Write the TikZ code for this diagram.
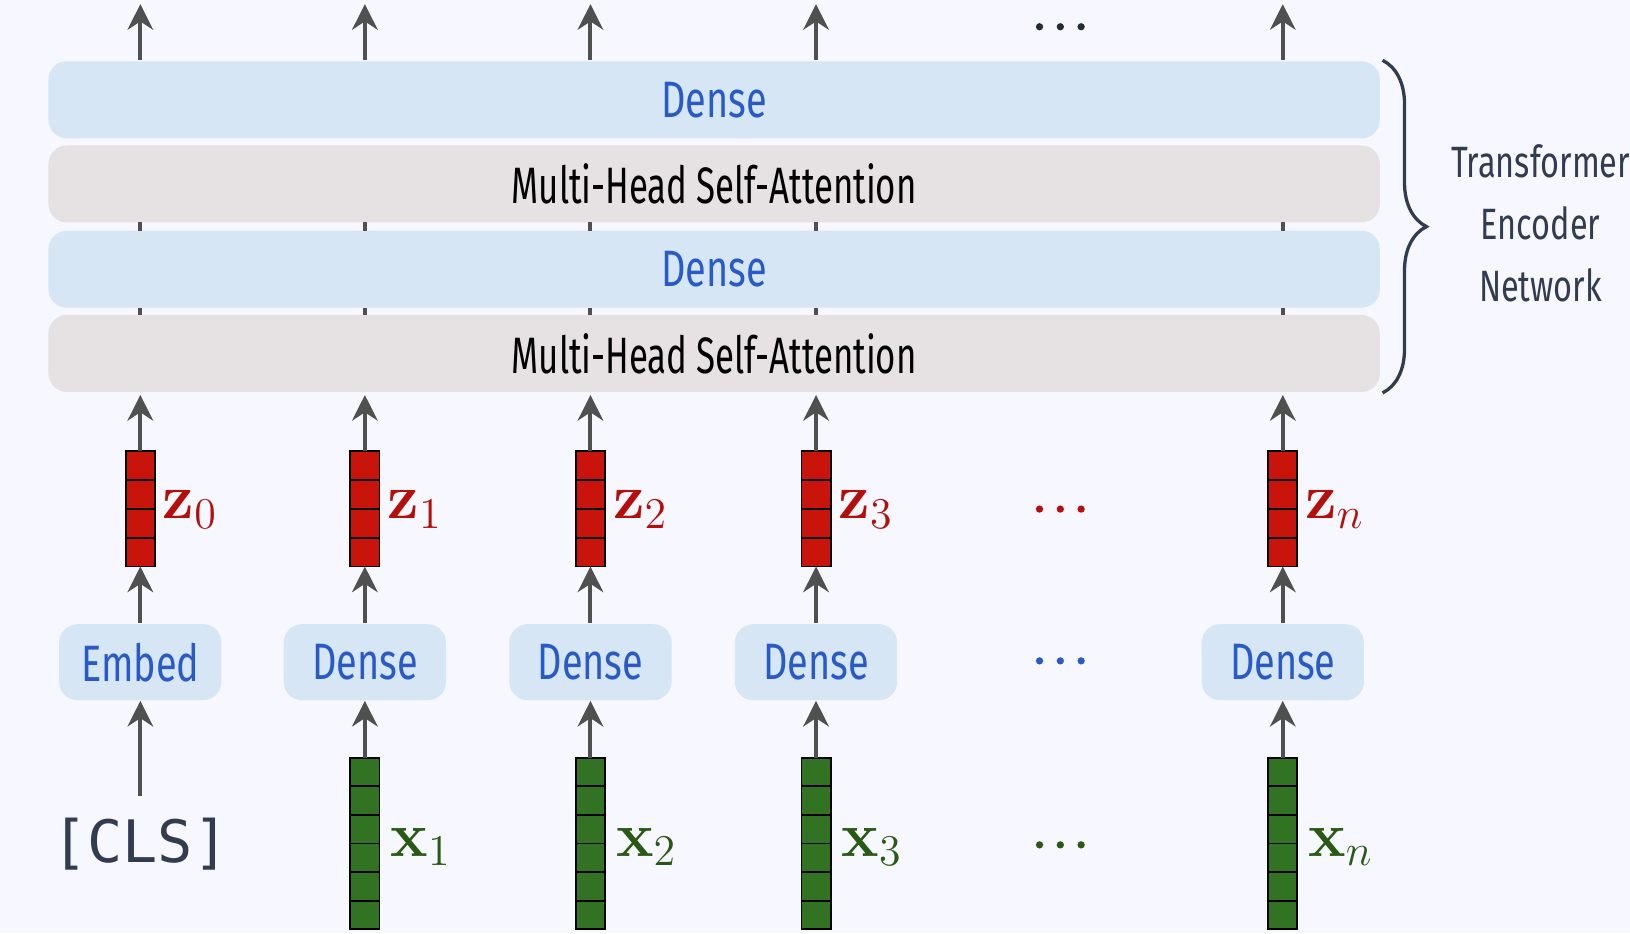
\documentclass[tikz,border=0pt]{standalone}
\usepackage[no-math]{fontspec}
\setmainfont{Fira Sans}
\setmonofont{DejaVu Sans Mono}
\usetikzlibrary{arrows.meta,decorations.pathreplacing}
\definecolor{lb}{RGB}{214,230,245}
\definecolor{lg}{RGB}{230,226,228}
\definecolor{tb}{RGB}{40,90,200}
\definecolor{ar}{RGB}{80,80,80}
\definecolor{rz}{RGB}{200,20,10}
\definecolor{dz}{RGB}{180,15,10}
\definecolor{gx}{RGB}{50,115,35}
\definecolor{dg}{RGB}{40,90,20}
\definecolor{sl}{RGB}{50,60,80}
\newcommand{\sq}[1]{\scalebox{0.74}[1]{#1}}
\newcommand{\sqm}[1]{\scalebox{0.68}[1]{#1}}
\newcommand{\mydots}{\tikz[baseline]{\foreach \q in {0,1,2}\fill (\q*0.2cm,0.08cm) circle (0.035cm);}}
\begin{document}
\begin{tikzpicture}[x=0.01cm,y=-0.01cm,
  arr/.style={draw=ar,line width=1.1pt,-{Stealth[length=7pt,width=7pt]}},
  layer/.style={rounded corners=5pt,minimum width=12.8cm,minimum height=0.74cm,inner sep=0pt,font=\fontsize{14}{16}\selectfont},
  small/.style={rounded corners=5pt,fill=lb,minimum width=1.56cm,minimum height=0.73cm,inner sep=0pt,text=tb,font=\fontsize{14}{16}\selectfont},
  cell/.style={draw=black,line width=0.5pt}]
\fill[white!97!blue] (0,0) rectangle (1568,898);
\useasboundingbox (0,0) rectangle (1568,898);
% layers
\node[layer,fill=lb,text=tb] (d2) at (687,96) {\sq{Dense}};
\node[layer,fill=lg] (m2) at (687,177) {\sqm{Multi-Head Self-Attention}};
\node[layer,fill=lb,text=tb] (d1) at (687,259) {\sq{Dense}};
\node[layer,fill=lg] (m1) at (687,340) {\sqm{Multi-Head Self-Attention}};
% columns
\foreach \i/\c in {0/135,1/351,2/568,3/785,4/1234}{
  \coordinate (t\i) at (\c,4);
  \draw[arr] (\c,58) -- (t\i);
  \draw[ar,line width=1.1pt] (\c,214) -- (\c,222);
  \draw[ar,line width=1.1pt] (\c,296) -- (\c,303);
  \foreach \k in {0,1,2,3}{
    \draw[cell,fill=rz] (\c-14,434+\k*27.75) rectangle (\c+14,434+\k*27.75+27.75);}
  \coordinate (zt\i) at (\c,434);
  \coordinate (zb\i) at (\c,545);
  \draw[arr] (zt\i) -- (\c,380);
}
\node[text=sl!70!black] (dt) at (1020,28) {\mydots};
\foreach \i/\c/\s in {0/135/0,1/351/1,2/568/2,3/785/3,4/1234/n}{
  \node[anchor=west,text=dz,font=\fontsize{18}{20}\selectfont,inner sep=0pt] (zl\i) at (\c+21,490) {$\mathbf{z}_{\s}$};
}
\node[text=dz] (zd) at (1020,492) {\mydots};
% small boxes
\node[small] (e0) at (135,637) {\sq{Embed}};
\foreach \i/\c in {1/351,2/568,3/785,4/1234}{
  \node[small] (e\i) at (\c,637) {\sq{Dense}};}
\node[text=tb] (ed) at (1020,638) {\mydots};
\foreach \i in {0,...,4}{\draw[arr] (e\i.north) -- (zb\i);}
% inputs
\node[text=sl,font=\ttfamily\fontsize{16}{18}\selectfont] (cls) at (135,812) {[CLS]};
\draw[arr] (135,766) -- (e0.south);
\foreach \i/\c/\s in {1/351/1,2/568/2,3/785/3,4/1234/n}{
  \foreach \k in {0,...,5}{
    \draw[cell,fill=gx] (\c-14,729+\k*27.5) rectangle (\c+14,729+\k*27.5+27.5);}
  \coordinate (xt\i) at (\c,729);
  \draw[arr] (xt\i) -- (e\i.south);
  \node[anchor=west,text=dg,font=\fontsize{18}{20}\selectfont,inner sep=0pt] (xl\i) at (\c+24,815) {$\mathbf{x}_{\s}$};
}
\node[text=dg] (xd) at (1020,815) {\mydots};
% brace
\draw[sl,line width=0.9pt,decorate,decoration={brace,amplitude=12pt}] (1330,58) -- (1330,378);
\node[text=sl,align=center,font=\fontsize{12}{17}\selectfont] (tn) at (1482,215) {\sq{Transformer}\\\sq{Encoder}\\\sq{Network}};
\end{tikzpicture}
\end{document}
